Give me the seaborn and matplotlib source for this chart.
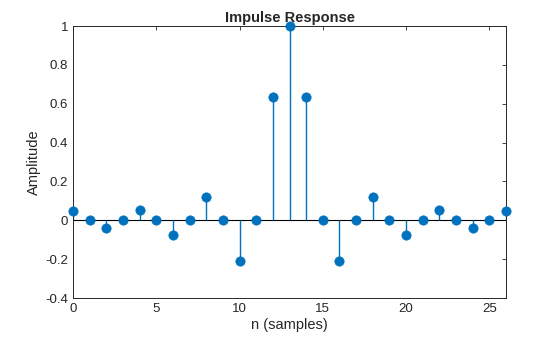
import numpy as np
import pandas as pd
import matplotlib
matplotlib.use("Agg")
import matplotlib.pyplot as plt
import seaborn as sns

n = list(range(27))
amplitude = [0.05, 0, -0.04, 0, 0.055, 0, -0.075, 0, 0.12, 0, -0.21, 0, 0.637, 1.0,
             0.637, 0, -0.21, 0, 0.12, 0, -0.075, 0, 0.055, 0, -0.04, 0, 0.05]
x_ticks = [0, 5, 10, 15, 20, 25]
y_ticks = [-0.4, -0.2, 0, 0.2, 0.4, 0.6, 0.8, 1]
y_labels = ["-0.4", "-0.2", "0", "0.2", "0.4", "0.6", "0.8", "1"]

sns.set_style("white")
plt.rcParams['font.family'] = ['Liberation Sans', 'DejaVu Sans']

df = pd.DataFrame({"n": n, "amp": amplitude})
col = "#0072BD"

fig = plt.figure(figsize=(5.6, 3.37), dpi=100)
ax = fig.add_axes([0.1304, 0.1157, 0.7732, 0.8071])

ax.axhline(0, color="black", lw=0.8, zorder=1)
ax.vlines(df["n"], 0, df["amp"], color=col, lw=1.0, zorder=2)
sns.scatterplot(data=df, x="n", y="amp", ax=ax, color=col, s=45,
                edgecolor=col, linewidth=0.5, zorder=3, clip_on=False)

ax.set_xlim(0, 26)
ax.set_ylim(-0.4, 1)
ax.set_xticks(x_ticks)
ax.set_yticks(y_ticks)
ax.set_yticklabels(y_labels)
ax.tick_params(direction="in", length=3, labelsize=9.5, colors="#262626",
               top=True, right=True, width=0.6)
for s in ax.spines.values():
    s.set_color("#262626")
    s.set_linewidth(0.7)
ax.set_xlabel("n (samples)", fontsize=10.5, color="#262626", labelpad=2)
ax.set_ylabel("Amplitude", fontsize=10.5, color="#262626", labelpad=3)
ax.set_title("Impulse Response", fontsize=10.5, fontweight="bold", color="#262626", pad=3)

fig.savefig("out.png", dpi=100)
